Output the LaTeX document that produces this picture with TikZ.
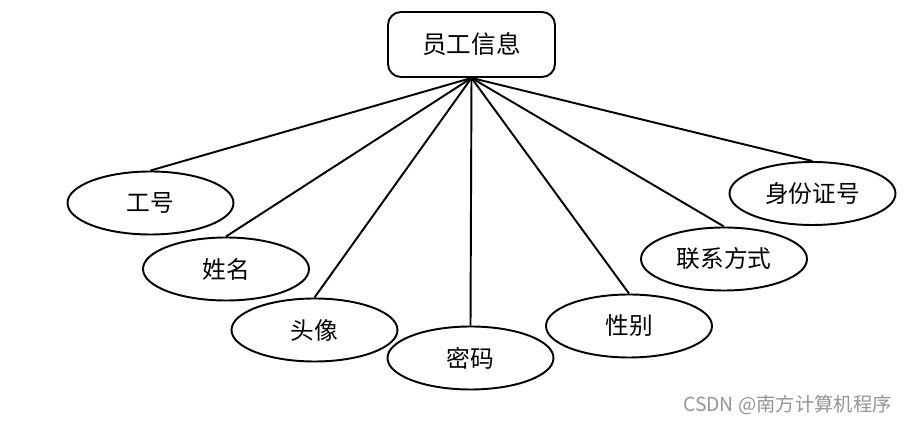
\documentclass[tikz,border=0pt]{standalone}
\usepackage{fontspec}
\setmainfont{Noto Sans CJK SC}
\usetikzlibrary{shapes.geometric}
\begin{document}
\begin{tikzpicture}[x=0.02cm,y=-0.02cm,
  entity/.style={draw,line width=1.1pt,rounded corners=0.26cm,minimum width=167*0.02cm,minimum height=65*0.02cm,inner sep=0pt,font=\fontsize{14pt}{16pt}\selectfont},
  attr/.style={draw,line width=1.1pt,ellipse,minimum width=166*0.02cm,minimum height=63*0.02cm,inner sep=0pt,font=\fontsize{13.5pt}{16pt}\selectfont},
  link/.style={line width=1.1pt}]
\useasboundingbox (0,0) rectangle (914,425);
\node[entity] (e) at (471.5,44.5) {员工信息};
\node[attr] (a1) at (150.5,203) {工号};
\node[attr] (a2) at (226,269) {姓名};
\node[attr] (a3) at (314.5,330) {头像};
\node[attr] (a4) at (470.5,358) {密码};
\node[attr] (a5) at (629,326) {性别};
\node[attr] (a6) at (724,259) {联系方式};
\node[attr] (a7) at (812.5,193.5) {身份证号};
\foreach \i in {1,...,7} \draw[link] (e.south) -- (a\i.north);
\node[text=black!42,font=\fontsize{11pt}{13pt}\selectfont,anchor=east] (wm) at (898,405) {CSDN @南方计算机程序};
\end{tikzpicture}
\end{document}
